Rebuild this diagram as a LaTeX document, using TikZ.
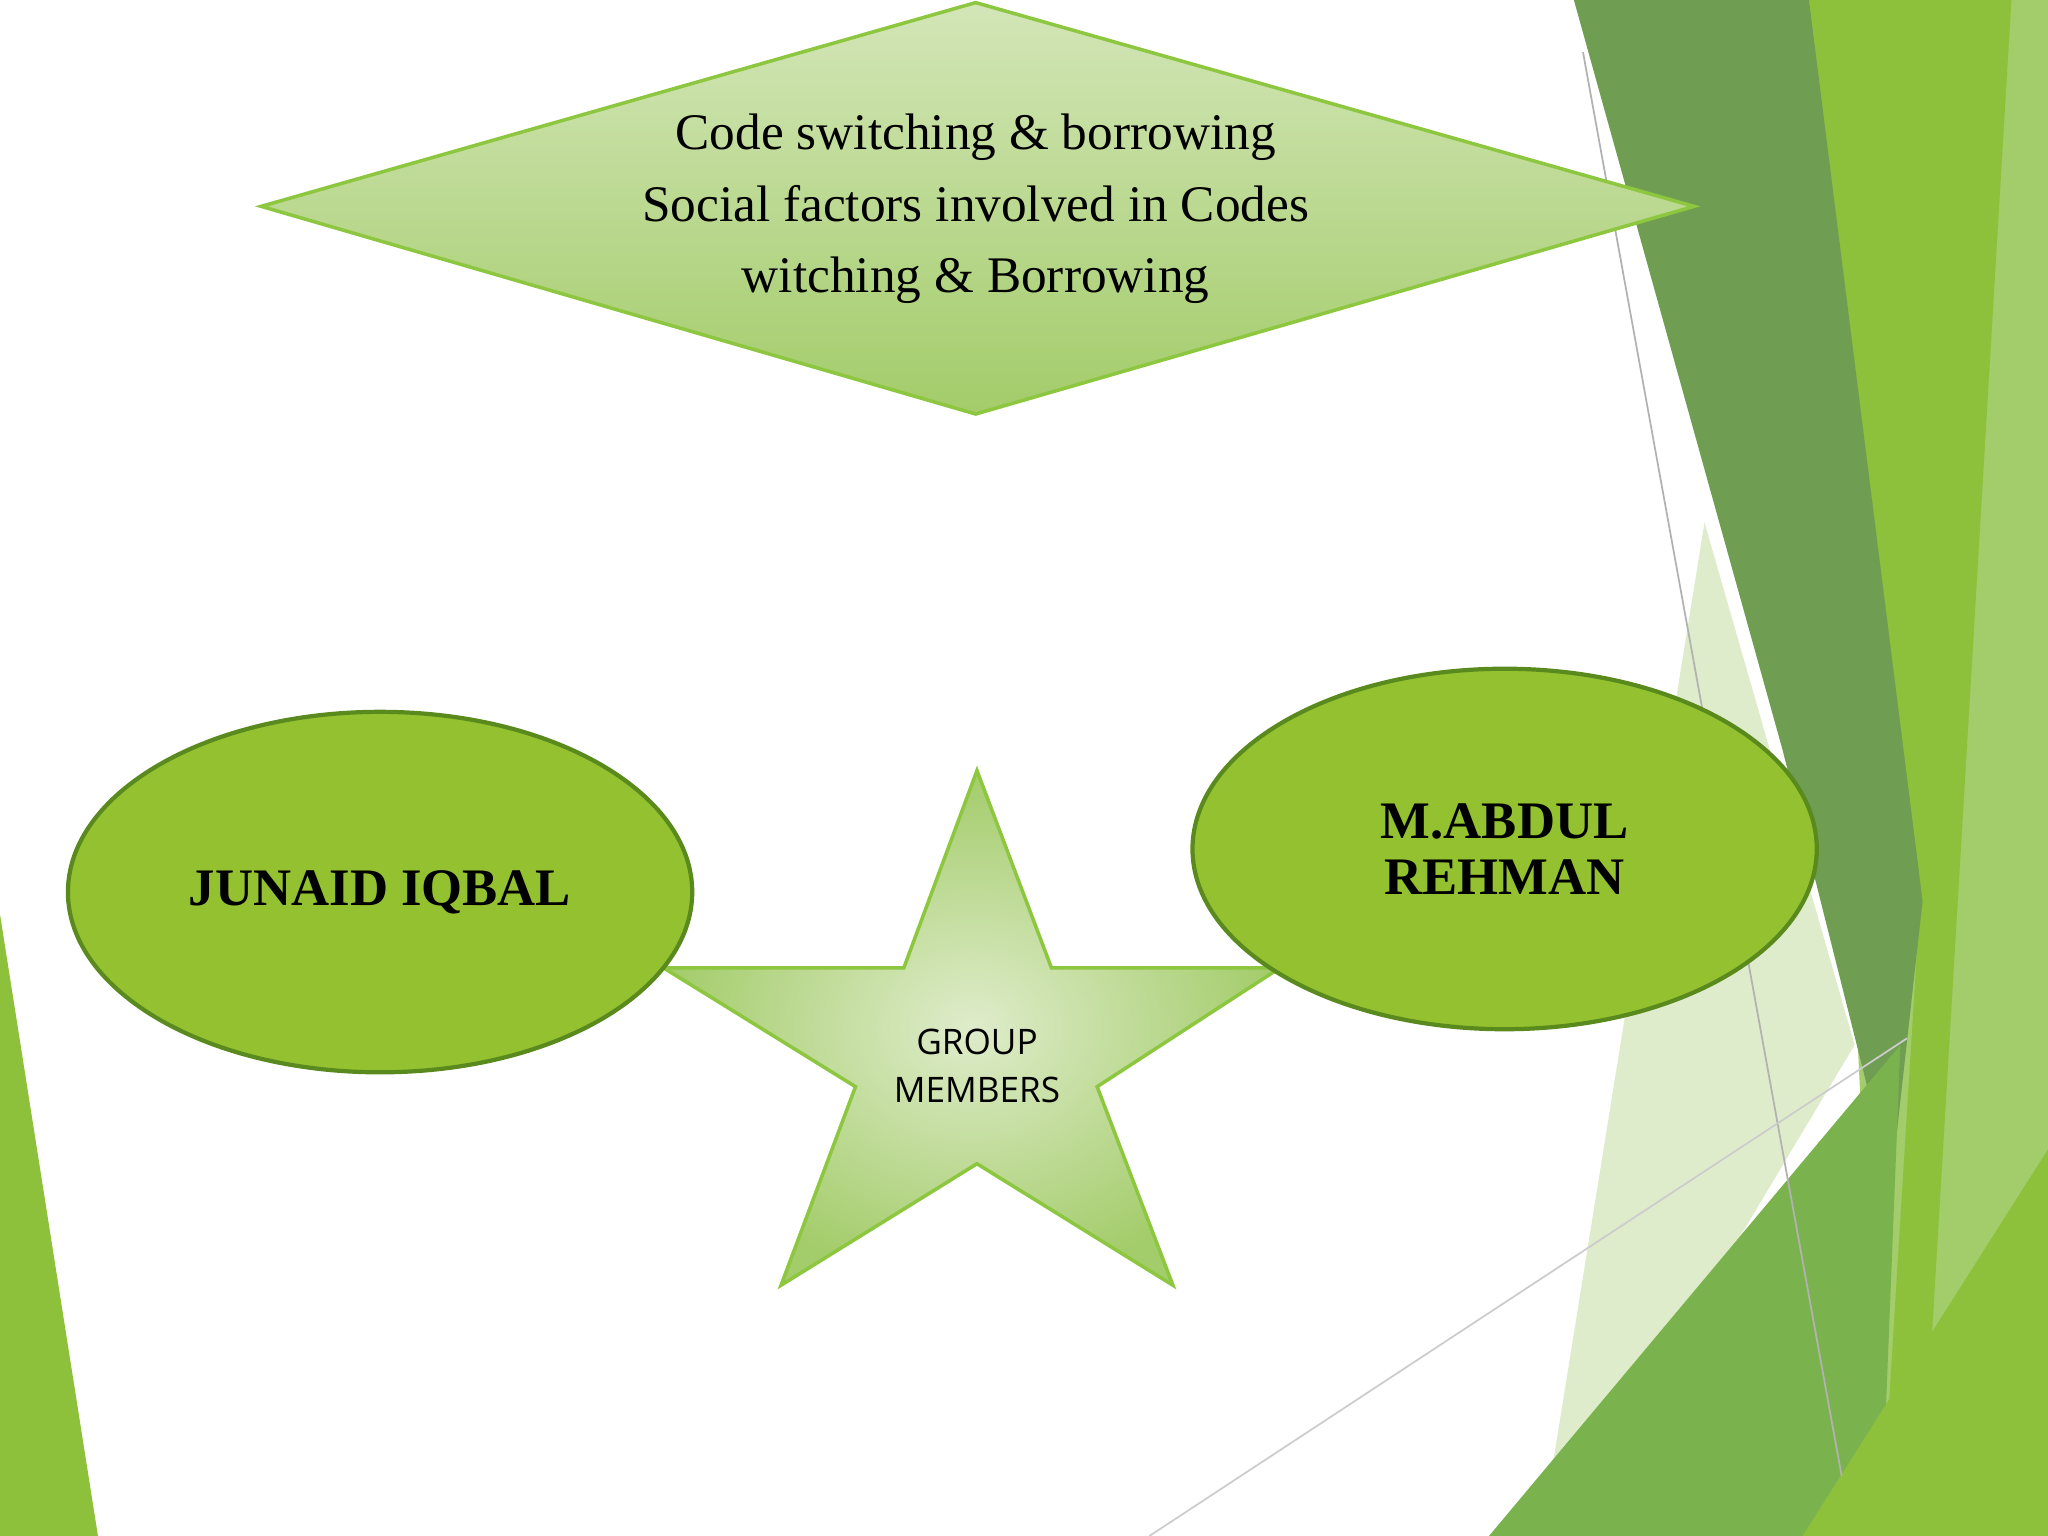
\documentclass[tikz,border=0pt]{standalone}
\usepackage{fontspec}
\setmainfont{Liberation Serif}
\newfontfamily\starfont{Open Sans}
\usetikzlibrary{shapes.geometric}
\definecolor{gA}{HTML}{8DC03B}
\definecolor{gDark}{HTML}{6F9E52}
\definecolor{gLight}{HTML}{A3CC6A}
\definecolor{gPale}{HTML}{DFECCB}
\definecolor{gMid}{HTML}{7AB24E}
\definecolor{ellFill}{HTML}{93C12F}
\definecolor{ellLine}{HTML}{5A8A1E}
\definecolor{shapeLine}{HTML}{8DC63F}
\tikzset{
  member/.style={ellipse, fill=ellFill, draw=ellLine, line width=1.2pt,
     minimum width=6.243cm, minimum height=3.605cm, inner sep=0pt,
     font=\fontsize{15}{16}\selectfont\bfseries, align=center},
}
\begin{document}
\begin{tikzpicture}[x=0.013061cm,y=-0.013061cm]
\useasboundingbox (0,0) rectangle (1568,1176);
% decoration right
\fill[gLight] (1385,0) -- (1568,0) -- (1568,1176) -- (1440,1176) -- cycle;
\fill[gA] (1385,0) -- (1540,0) -- (1470,1176) -- (1440,1176) -- (1470,690) -- cycle;
\fill[gPale] (1305,400) -- (1420,800) -- (1195,1176) -- (1180,1176) -- cycle;
\fill[gDark] (1205,0) -- (1385,0) -- (1472,690) -- (1448,905) -- (1365,575) -- cycle;
\fill[gMid] (1140,1176) -- (1455,800) -- (1440,1176) -- cycle;
\fill[gA] (1380,1176) -- (1568,880) -- (1568,1176) -- cycle;
\draw[gray!60, line width=0.5pt] (1212,40) -- (1410,1130);
\draw[gray!40, line width=0.5pt] (880,1176) -- (1460,795);
% left
\fill[gA] (0,700) -- (0,1176) -- (75,1176) -- cycle;
% diamond
\coordinate (dt) at (747,2); \coordinate (dl) at (200,158);
\coordinate (dr) at (1297,158); \coordinate (db) at (747,317);
\shade[top color=gPale!80!gLight, bottom color=gLight, draw=shapeLine, line width=1pt]
  (dt) -- (dr) -- (db) -- (dl) -- cycle;
\node[align=center, font=\fontsize{14.6}{20.3}\selectfont] (title) at (747,160)
  {Code switching \& borrowing\\Social factors involved in Codes\\witching \& Borrowing};
% star
\shade[inner color=gPale, outer color=gLight, draw=shapeLine, line width=1pt]
  (748,590) -- (805,741) -- (980,741) -- (840,832) -- (898,984) -- (748,891)
  -- (598,984) -- (655,832) -- (508,741) -- (692,741) -- cycle;
\node[align=center, font=\starfont\fontsize{10}{13.5}\selectfont] (star) at (748,816) {GROUP\\MEMBERS};
% ellipses
\node[member] (junaid) at (291,683) {JUNAID IQBAL};
\node[member] (rehman) at (1152,650) {M.ABDUL\\REHMAN};
\end{tikzpicture}
\end{document}
